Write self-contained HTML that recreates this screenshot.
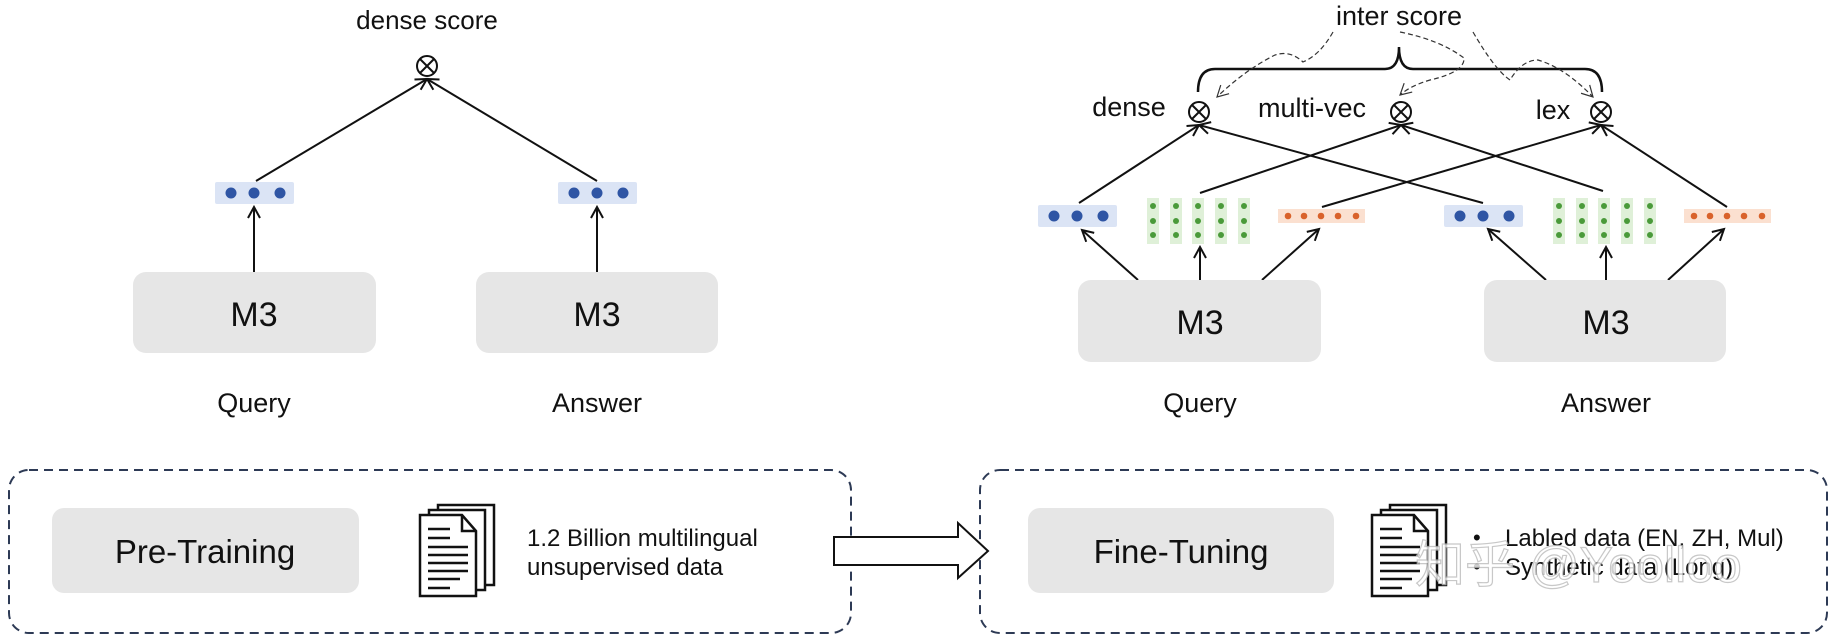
<!DOCTYPE html>
<html><head><meta charset="utf-8"><style>
html,body{margin:0;padding:0;background:#fff;}
svg{display:block;}
text{font-family:"Liberation Sans","Noto Sans CJK SC",sans-serif;fill:#111;}
</style></head><body>
<svg width="1834" height="638" viewBox="0 0 1834 638" xmlns="http://www.w3.org/2000/svg">
<defs>
<marker id="ah" markerWidth="14" markerHeight="14" refX="12" refY="7" orient="auto" markerUnits="userSpaceOnUse">
<path d="M1,1 L12,7 L1,13" fill="none" stroke="#111" stroke-width="2"/>
</marker>
<marker id="ahd" markerWidth="14" markerHeight="14" refX="12" refY="7" orient="auto" markerUnits="userSpaceOnUse">
<path d="M1,1 L12,7 L1,13" fill="none" stroke="#333" stroke-width="1.2"/>
</marker>
<g id="otimes">
<circle cx="0" cy="0" r="10" fill="#fff" stroke="#111" stroke-width="2"/>
<path d="M-7,-7 L7,7 M7,-7 L-7,7" stroke="#111" stroke-width="2"/>
</g>
<g id="doc" fill="#fff" stroke="#111" stroke-width="2.5">
<rect x="18" y="0" width="56" height="80"/>
<rect x="9" y="5" width="56" height="80"/>
<path d="M0,10 H42 L56,26 V91 H0 Z"/>
<path d="M42,10 V26 H56" fill="none"/>
<path d="M8,24 H30 M8,33 H30 M8,42 H48 M8,50 H48 M8,58 H48 M8,66 H48 M8,74 H40 M8,83 H30" fill="none" stroke-width="2.5"/>
</g>
<g id="blue"><rect x="0" y="0" width="79" height="22" rx="2" fill="#dbe4f5"/>
<circle cx="16" cy="11" r="5.5" fill="#2f55a4"/><circle cx="39" cy="11" r="5.5" fill="#2f55a4"/><circle cx="65" cy="11" r="5.5" fill="#2f55a4"/></g>
<g id="green">
<g fill="#dff0d8"><rect x="-6" y="0" width="12" height="46"/><rect x="17" y="0" width="12" height="46"/><rect x="39" y="0" width="12" height="46"/><rect x="62" y="0" width="12" height="46"/><rect x="85" y="0" width="12" height="46"/></g>
<g fill="#4a9a3a">
<circle cx="0" cy="8" r="3"/><circle cx="0" cy="23" r="3"/><circle cx="0" cy="37" r="3"/>
<circle cx="23" cy="8" r="3"/><circle cx="23" cy="23" r="3"/><circle cx="23" cy="37" r="3"/>
<circle cx="45" cy="8" r="3"/><circle cx="45" cy="23" r="3"/><circle cx="45" cy="37" r="3"/>
<circle cx="68" cy="8" r="3"/><circle cx="68" cy="23" r="3"/><circle cx="68" cy="37" r="3"/>
<circle cx="91" cy="8" r="3"/><circle cx="91" cy="23" r="3"/><circle cx="91" cy="37" r="3"/></g></g>
<g id="orange"><rect x="0" y="0" width="87" height="14" fill="#fbe0d0"/>
<g fill="#d9622b"><circle cx="10" cy="7" r="3.3"/><circle cx="26" cy="7" r="3.3"/><circle cx="43" cy="7" r="3.3"/><circle cx="60" cy="7" r="3.3"/><circle cx="78" cy="7" r="3.3"/></g></g>
</defs>

<!-- LEFT -->
<text x="427" y="29" font-size="26" text-anchor="middle">dense score</text>
<g stroke="#111" stroke-width="2" fill="none">
<line x1="256" y1="181" x2="427" y2="79" marker-end="url(#ah)"/>
<line x1="597" y1="181" x2="427" y2="79" marker-end="url(#ah)"/>
<line x1="254" y1="272" x2="254" y2="207" marker-end="url(#ah)"/>
<line x1="597" y1="272" x2="597" y2="207" marker-end="url(#ah)"/>
</g>
<use href="#otimes" x="427" y="66"/>
<use href="#blue" x="215" y="182"/>
<use href="#blue" x="558" y="182"/>
<rect x="133" y="272" width="243" height="81" rx="13" fill="#e6e6e6"/>
<rect x="476" y="272" width="242" height="81" rx="13" fill="#e6e6e6"/>
<text x="254" y="326" font-size="34" text-anchor="middle">M3</text>
<text x="597" y="326" font-size="34" text-anchor="middle">M3</text>
<text x="254" y="412" font-size="27" text-anchor="middle">Query</text>
<text x="597" y="412" font-size="27" text-anchor="middle">Answer</text>

<!-- RIGHT -->
<text x="1399" y="25" font-size="27" text-anchor="middle">inter score</text>
<path d="M1198,92 Q1198,69 1215,69 H1385 Q1399,69 1399,47 Q1399,69 1413,69 H1585 Q1602,69 1602,92" fill="none" stroke="#111" stroke-width="2.5"/>
<g stroke="#333" stroke-width="1.2" fill="none" stroke-dasharray="5,3">
<path d="M1333,32 Q1320,55 1303,62 Q1290,50 1275,55 Q1245,70 1217,97" marker-end="url(#ahd)"/>
<path d="M1400,32 Q1440,40 1464,58 Q1465,72 1430,80 Q1410,86 1400,95" marker-end="url(#ahd)"/>
<path d="M1473,32 Q1495,70 1510,80 Q1522,60 1538,60 Q1565,68 1593,97" marker-end="url(#ahd)"/>
</g>
<text x="1129" y="116" font-size="27" text-anchor="middle">dense</text>
<text x="1312" y="117" font-size="27" text-anchor="middle">multi-vec</text>
<text x="1553" y="119" font-size="27" text-anchor="middle">lex</text>

<g stroke="#111" stroke-width="2" fill="none">
<line x1="1079" y1="203" x2="1199" y2="125" marker-end="url(#ah)"/>
<line x1="1483" y1="203" x2="1199" y2="125" marker-end="url(#ah)"/>
<line x1="1200" y1="193" x2="1401" y2="125" marker-end="url(#ah)"/>
<line x1="1603" y1="191" x2="1401" y2="125" marker-end="url(#ah)"/>
<line x1="1322" y1="207" x2="1601" y2="125" marker-end="url(#ah)"/>
<line x1="1727" y1="207" x2="1601" y2="125" marker-end="url(#ah)"/>
<line x1="1138" y1="280" x2="1082" y2="230" marker-end="url(#ah)"/>
<line x1="1200" y1="280" x2="1200" y2="247" marker-end="url(#ah)"/>
<line x1="1262" y1="280" x2="1319" y2="229" marker-end="url(#ah)"/>
<line x1="1546" y1="280" x2="1488" y2="229" marker-end="url(#ah)"/>
<line x1="1606" y1="280" x2="1606" y2="247" marker-end="url(#ah)"/>
<line x1="1668" y1="280" x2="1724" y2="229" marker-end="url(#ah)"/>
</g>
<use href="#otimes" x="1199" y="112"/>
<use href="#otimes" x="1401" y="112"/>
<use href="#otimes" x="1601" y="112"/>
<use href="#blue" x="1038" y="205"/>
<use href="#green" x="1153" y="198"/>
<use href="#orange" x="1278" y="209"/>
<use href="#blue" x="1444" y="205"/>
<use href="#green" x="1559" y="198"/>
<use href="#orange" x="1684" y="209"/>
<rect x="1078" y="280" width="243" height="82" rx="13" fill="#e6e6e6"/>
<rect x="1484" y="280" width="242" height="82" rx="13" fill="#e6e6e6"/>
<text x="1200" y="334" font-size="34" text-anchor="middle">M3</text>
<text x="1606" y="334" font-size="34" text-anchor="middle">M3</text>
<text x="1200" y="412" font-size="27" text-anchor="middle">Query</text>
<text x="1606" y="412" font-size="27" text-anchor="middle">Answer</text>

<!-- BOTTOM -->
<rect x="9" y="470" width="842" height="163" rx="20" fill="none" stroke="#2d3a55" stroke-width="2" stroke-dasharray="9,6"/>
<rect x="980" y="470" width="847" height="163" rx="20" fill="none" stroke="#2d3a55" stroke-width="2" stroke-dasharray="9,6"/>
<rect x="52" y="508" width="307" height="85" rx="12" fill="#e6e6e6"/>
<text x="205" y="563" font-size="33" text-anchor="middle">Pre-Training</text>
<use href="#doc" x="420" y="505"/>
<text x="527" y="546" font-size="24">1.2 Billion multilingual</text>
<text x="527" y="575" font-size="24">unsupervised data</text>
<path d="M834,537 H958 V523 L988,551 L958,578 V565 H834 Z" fill="#fff" stroke="#111" stroke-width="2"/>
<rect x="1028" y="508" width="306" height="85" rx="12" fill="#e6e6e6"/>
<text x="1181" y="563" font-size="33" text-anchor="middle">Fine-Tuning</text>
<use href="#doc" x="1372" y="505"/>
<text x="1473" y="545" font-size="22">•</text>
<text x="1473" y="574" font-size="22">•</text>
<text x="1505" y="546" font-size="24">Labled data (EN, ZH, Mul)</text>
<text x="1505" y="575" font-size="24">Synthetic data (Long)</text>
<text x="1415" y="582" font-size="50" style="fill:#fff;stroke:#bbb;stroke-width:1.2" opacity="0.8">知乎 @Yoolloo</text>
</svg>
</body></html>
